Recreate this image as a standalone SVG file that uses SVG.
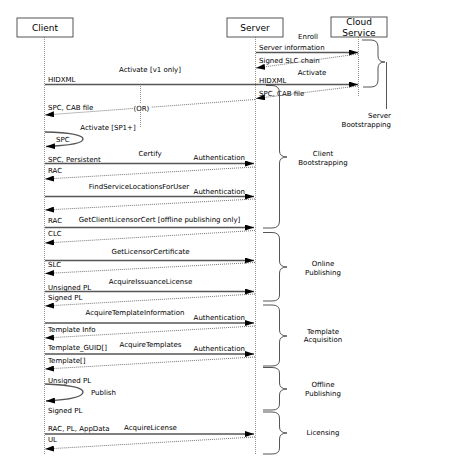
<svg xmlns="http://www.w3.org/2000/svg" width="474" height="475" viewBox="0 0 474 475">
<defs>
<style>
text{font-family:"DejaVu Sans",Verdana,sans-serif;font-size:7px;fill:#000}
.hd{font-size:9px;text-anchor:middle}
.c{text-anchor:middle}
.e{text-anchor:end}
.box{fill:#fff;stroke:#555;stroke-width:1}
.life{stroke:#777;stroke-width:0.8;stroke-dasharray:1,1;fill:none}
.msg{stroke:#555;stroke-width:1.4;fill:none;marker-end:url(#ah)}
.ret{stroke:#666;stroke-width:0.9;stroke-dasharray:1,1;fill:none;marker-end:url(#ah)}
.brace{stroke:#555;stroke-width:1;fill:none}
</style>
<marker id="ah" markerWidth="9" markerHeight="6" refX="9" refY="3" orient="auto" markerUnits="userSpaceOnUse"><path d="M0,0 L9,3 L0,6 z" fill="#000"/></marker>
</defs>
<rect width="474" height="475" fill="#fff"/>

<g id="client">
<line class="life" x1="44.5" y1="37" x2="44.5" y2="455"/>
<rect class="box" x="17" y="18" width="56" height="19"/>
<text class="hd" x="45" y="30.5">Client</text>
</g>
<g id="server">
<line class="life" x1="255.5" y1="37" x2="255.5" y2="455"/>
<rect class="box" x="227" y="18" width="56" height="19"/>
<text class="hd" x="255" y="30.5">Server</text>
</g>
<g id="cloud">
<line class="life" x1="358.5" y1="37" x2="358.5" y2="97"/>
<rect class="box" x="331" y="17" width="56" height="20"/>
<text class="hd" x="359" y="25">Cloud</text>
<text class="hd" x="359" y="35.5">Service</text>
</g>

<g id="connectors">
<text class="c" x="308" y="39">Enroll</text>
<text x="259" y="50">Server information</text>
<line class="msg" x1="256" y1="52.5" x2="358" y2="52.5"/>
<text x="259" y="63">Signed SLC chain</text>
<line class="ret" x1="358" y1="54" x2="256" y2="68"/>
<text class="c" x="312" y="75">Activate</text>
<text class="c" x="150" y="71.5">Activate [v1 only]</text>
<text x="48" y="81.5">HIDXML</text>
<text x="259" y="82.5">HIDXML</text>
<line class="msg" x1="45" y1="84.5" x2="358" y2="84.5"/>
<text x="259" y="95.5">SPC, CAB file</text>
<line class="ret" x1="358" y1="86" x2="256" y2="98.5"/>
<line class="life" x1="140.5" y1="86" x2="140.5" y2="128"/>
<line class="ret" x1="255" y1="99.5" x2="45" y2="115"/>
<rect x="133" y="104" width="18" height="8" fill="#fff"/>
<text x="133.5" y="110.5">(OR)</text>
<text x="48" y="109.5">SPC, CAB file</text>

<text class="c" x="108" y="129.5">Activate [SP1+]</text>
<path class="msg" d="M45,132 Q83,133 83,139 Q83,145 46,146.5"/>
<text x="56" y="141.5">SPC</text>

<text class="c" x="150" y="156">Certify</text>
<text x="48" y="161.5">SPC, Persistent</text>
<text class="e" x="245" y="160">Authentication</text>
<line class="msg" x1="45" y1="163.5" x2="254" y2="163.5"/>
<text x="48" y="172.5">RAC</text>
<line class="ret" x1="255" y1="167" x2="45" y2="179"/>

<text class="c" x="139" y="188.5">FindServiceLocationsForUser</text>
<text class="e" x="245" y="193.5">Authentication</text>
<line class="msg" x1="45" y1="196.5" x2="254" y2="196.5"/>
<line class="ret" x1="255" y1="199" x2="45" y2="210"/>

<text x="48" y="222.5">RAC</text>
<text class="c" x="159.5" y="221.5">GetClientLicensorCert [offline publishing only]</text>
<line class="msg" x1="45" y1="227.5" x2="254" y2="227.5"/>
<text x="48" y="235.5">CLC</text>
<line class="ret" x1="255" y1="230.5" x2="45" y2="243"/>

<text class="c" x="150.5" y="253.5">GetLicensorCertificate</text>
<line class="msg" x1="45" y1="260.5" x2="254" y2="260.5"/>
<text x="48" y="266.5">SLC</text>
<line class="ret" x1="255" y1="262.5" x2="45" y2="273.5"/>

<text class="c" x="150.5" y="283.5">AcquireIssuanceLicense</text>
<text x="48" y="289.5">Unsigned PL</text>
<line class="msg" x1="45" y1="291.5" x2="254" y2="291.5"/>
<text x="48" y="299.5">Signed PL</text>
<line class="ret" x1="255" y1="294" x2="45" y2="306"/>

<text class="c" x="135" y="314.5">AcquireTemplateInformation</text>
<text class="e" x="245" y="319.5">Authentication</text>
<line class="msg" x1="45" y1="323" x2="254" y2="323"/>
<text x="48" y="331.5">Template Info</text>
<line class="ret" x1="255" y1="326" x2="45" y2="338"/>

<text class="c" x="150.5" y="346.5">AcquireTemplates</text>
<text x="48" y="349.5">Template_GUID[]</text>
<text class="e" x="245" y="350.5">Authentication</text>
<line class="msg" x1="45" y1="354" x2="254" y2="354"/>
<text x="48" y="362.5">Template[]</text>
<line class="ret" x1="255" y1="357" x2="45" y2="369"/>

<text x="48" y="382.5">Unsigned PL</text>
<path class="msg" d="M45,384 Q83,385.5 83,392 Q83,399 46,401"/>
<text x="91" y="394.5">Publish</text>
<text x="48" y="412.5">Signed PL</text>

<text x="48" y="430.5">RAC, PL, AppData</text>
<text class="c" x="150.5" y="429.5">AcquireLicense</text>
<line class="msg" x1="45" y1="434" x2="254" y2="434"/>
<text x="48" y="441.5">UL</text>
<line class="ret" x1="255" y1="437" x2="45" y2="449"/>
</g>

<g id="brace-server">
<path class="brace" d="M362,40 H371 Q378,40 378,47 V56 Q378,62 385,62 Q378,62 378,68 V80 Q378,87 371,87 H363"/>
<line class="brace" x1="386.5" y1="62" x2="386.5" y2="109"/>
<text class="e" x="391" y="117.5">Server</text>
<text class="e" x="391" y="126.5">Bootstrapping</text>
</g>
<g id="brace-client">
<path class="brace" d="M266,85.5 H272 Q279.5,85.5 279.5,93 V151 Q279.5,157 287,157 Q279.5,157 279.5,163 V221 Q279.5,228 272,228 H263"/>
<text class="c" x="323" y="155.5">Client</text>
<text class="c" x="323" y="164.5">Bootstrapping</text>
</g>
<g id="brace-online">
<path class="brace" d="M263,232.5 H272 Q279.5,232.5 279.5,239 V261 Q279.5,267 287,267 Q279.5,267 279.5,273 V295 Q279.5,301 272,301 H263"/>
<text class="c" x="323" y="265.5">Online</text>
<text class="c" x="323" y="274.5">Publishing</text>
</g>
<g id="brace-template">
<path class="brace" d="M263,305 H272 Q279.5,305 279.5,311 V330 Q279.5,336 287,336 Q279.5,336 279.5,342 V360 Q279.5,366 272,366 H263"/>
<text class="c" x="323" y="333.5">Template</text>
<text class="c" x="323" y="342">Acquisition</text>
</g>
<g id="brace-offline">
<path class="brace" d="M263,367.5 H272 Q279.5,367.5 279.5,373 V383 Q279.5,389 287,389 Q279.5,389 279.5,395 V404 Q279.5,410 272,410 H263"/>
<text class="c" x="323" y="387">Offline</text>
<text class="c" x="323" y="396">Publishing</text>
</g>
<g id="brace-licensing">
<path class="brace" d="M263,412 H272 Q279.5,412 279.5,418 V427 Q279.5,433 287,433 Q279.5,433 279.5,439 V448 Q279.5,454 272,454 H263"/>
<text class="c" x="323" y="435">Licensing</text>
</g>
</svg>
